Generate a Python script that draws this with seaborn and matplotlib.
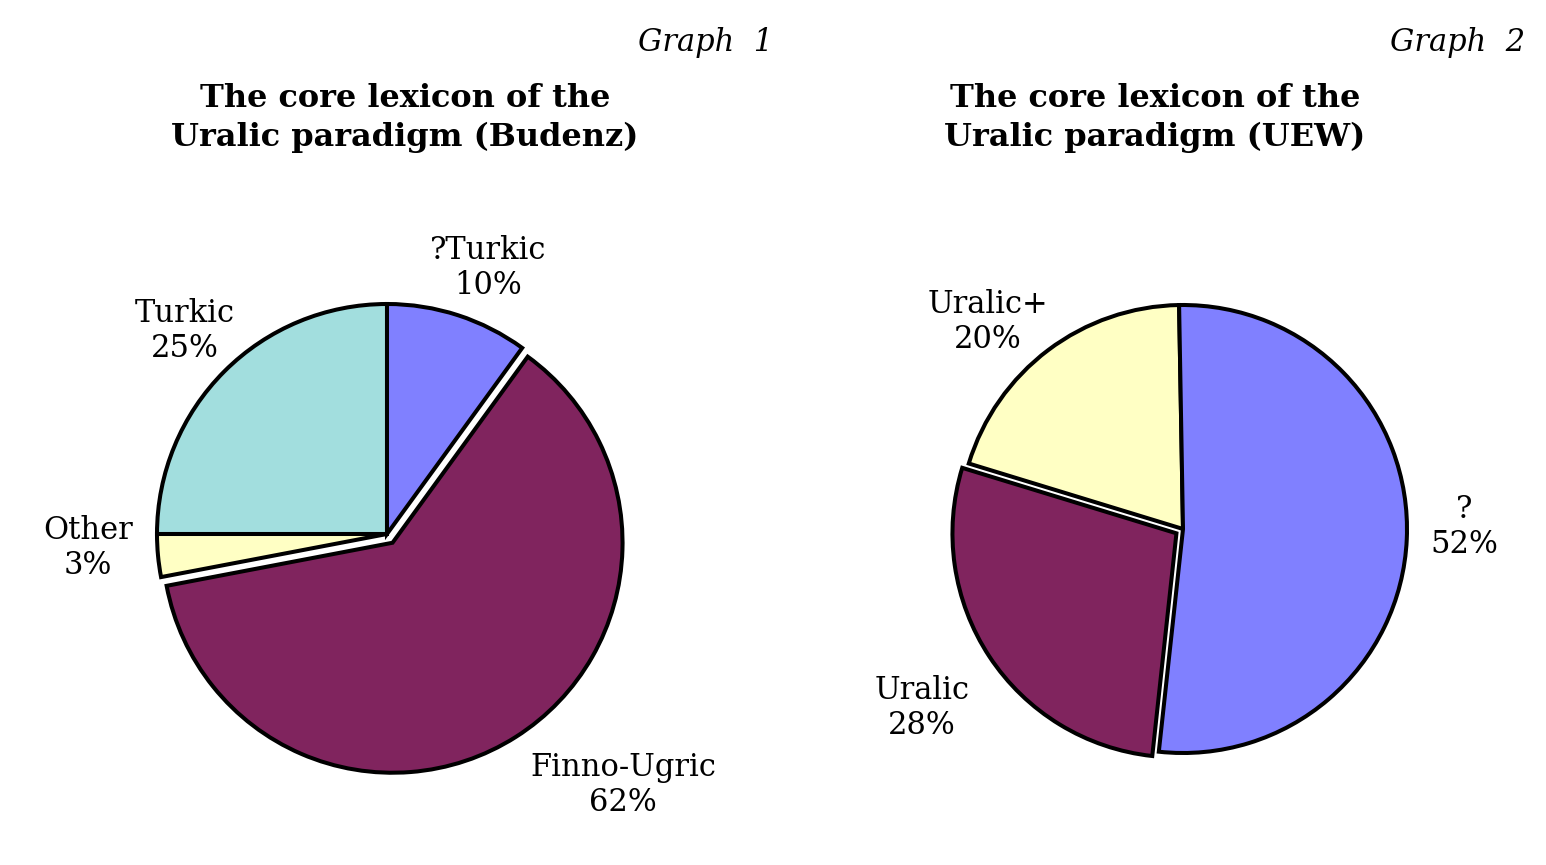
import matplotlib
matplotlib.use("Agg")
import matplotlib.pyplot as plt
import seaborn as sns

# ---- data ----
budenz_labels = ["Turkic", "Other", "Finno-Ugric", "?Turkic"]
budenz_values = [25, 3, 62, 10]
uew_labels = ["Uralic+", "Uralic", "?"]
uew_values = [20, 28, 52]

title1 = "The core lexicon of the\nUralic paradigm (Budenz)"
title2 = "The core lexicon of the\nUralic paradigm (UEW)"

sns.set_theme(style="white")
plt.rcParams['font.family'] = ['DejaVu Serif']
plt.rcParams['text.color'] = 'black'

c_blue = "#8080FF"
c_purple = "#80245E"
c_cyan = "#A2DEDE"
c_yellow = "#FFFFC4"

W, H = 1546, 865
fig = plt.figure(figsize=(W / 100, H / 100), dpi=100)


def px(x, y):
    return x / W, 1 - y / H


def add_pie_axes(cx, cy, r, lim=1.35):
    half = r * lim
    ax = fig.add_axes([(cx - half) / W, (H - (cy + half)) / H, 2 * half / W, 2 * half / H])
    return ax


wp = dict(edgecolor="black", linewidth=2.9)

ax1 = add_pie_axes(387, 534, 230)
ax1.pie(budenz_values, colors=[c_cyan, c_yellow, c_purple, c_blue], startangle=90,
        counterclock=True, explode=[0, 0, 0.045, 0], wedgeprops=wp)
ax1.set_xlim(-1.35, 1.35)
ax1.set_ylim(-1.35, 1.35)
ax1.axis("off")

ax2 = add_pie_axes(1183, 529, 224)
ax2.pie(uew_values, colors=[c_yellow, c_purple, c_blue], startangle=91,
        counterclock=True, explode=[0, 0.035, 0], wedgeprops=wp)
ax2.set_xlim(-1.35, 1.35)
ax2.set_ylim(-1.35, 1.35)
ax2.axis("off")

lab_fs = 22
pos1 = {"Turkic": (185, 331), "Other": (88, 548), "Finno-Ugric": (623, 785), "?Turkic": (488, 268)}
for lab, v in zip(budenz_labels, budenz_values):
    x, y = pos1[lab]
    fig.text(*px(x, y), f"{lab}\n{v}%", ha="center", va="center", fontsize=lab_fs,
             linespacing=1.2, color="black")

pos2 = {"Uralic+": (988, 322), "Uralic": (922, 708), "?": (1464, 527)}
for lab, v in zip(uew_labels, uew_values):
    x, y = pos2[lab]
    fig.text(*px(x, y), f"{lab}\n{v}%", ha="center", va="center", fontsize=lab_fs,
             linespacing=1.2, color="black")

fig.text(*px(405, 118), title1, ha="center", va="center", fontsize=23, fontweight="bold",
         linespacing=1.32, color="black")
fig.text(*px(1155, 118), title2, ha="center", va="center", fontsize=23, fontweight="bold",
         linespacing=1.32, color="black")

fig.text(*px(773, 42), "Graph  1", ha="right", va="center", fontsize=22, fontstyle="italic",
         color="black")
fig.text(*px(1525, 42), "Graph  2", ha="right", va="center", fontsize=22, fontstyle="italic",
         color="black")

fig.savefig("out.png", dpi=100, facecolor="white")
